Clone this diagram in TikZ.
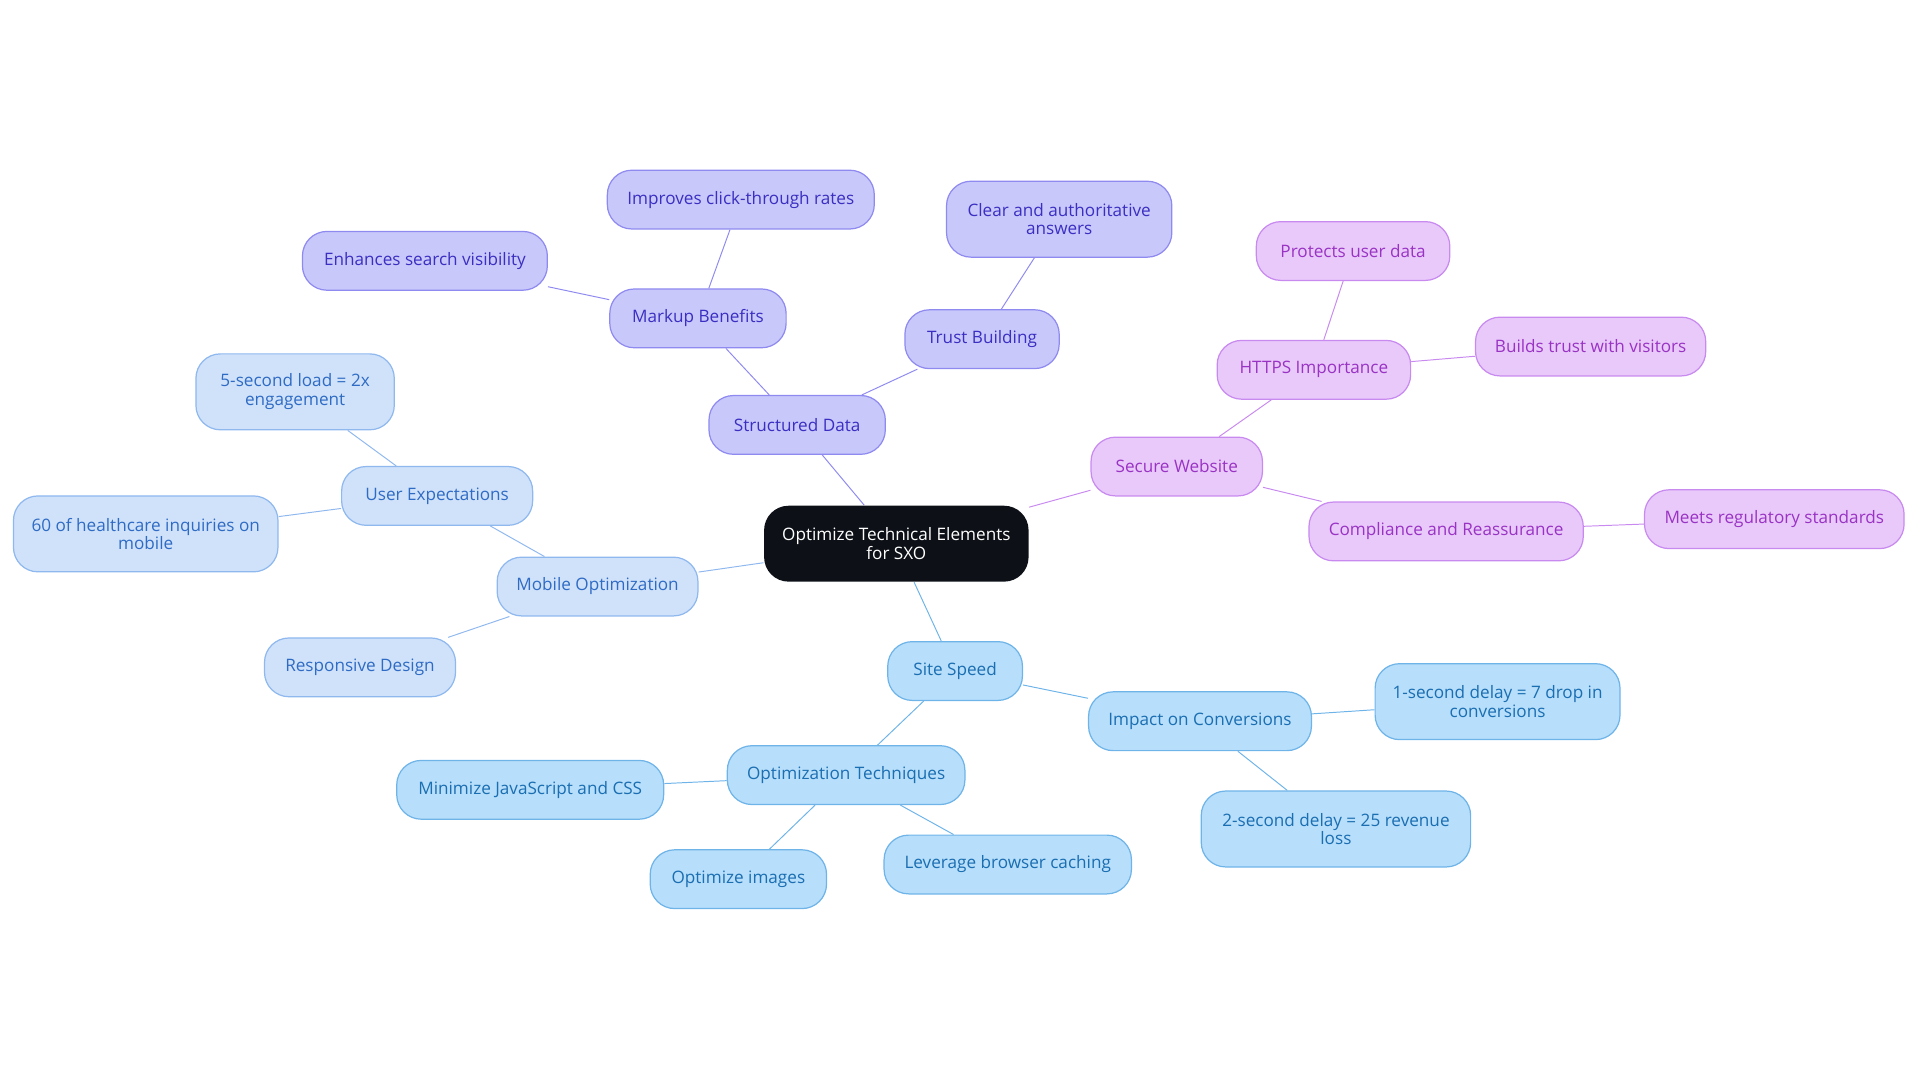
\documentclass[tikz,border=0pt]{standalone}
\usepackage{fontspec}
\setmainfont{Open Sans}
\usetikzlibrary{backgrounds}
\definecolor{rootfill}{HTML}{0D1117}
\definecolor{purfill}{HTML}{C9C8FA}\definecolor{purtext}{HTML}{3A2FC2}\definecolor{purline}{HTML}{8F8AF0}
\definecolor{pinkfill}{HTML}{E8C9FA}\definecolor{pinktext}{HTML}{9A33C4}\definecolor{pinkline}{HTML}{C98AF0}
\definecolor{mobfill}{HTML}{CFE2FA}\definecolor{mobtext}{HTML}{2F6BC4}\definecolor{mobline}{HTML}{8FB8EE}
\definecolor{spdfill}{HTML}{B7DEFA}\definecolor{spdtext}{HTML}{1A6EB2}\definecolor{spdline}{HTML}{6FB4E8}
\tikzset{
  box/.style={rounded corners=10pt, align=center, font=\fontsize{7}{7.6}\selectfont,
    minimum height=24pt, inner sep=2pt, line width=0.5pt},
  pur/.style={box, fill=purfill, draw=purline, text=purtext},
  pink/.style={box, fill=pinkfill, draw=pinkline, text=pinktext},
  mob/.style={box, fill=mobfill, draw=mobline, text=mobtext},
  spd/.style={box, fill=spdfill, draw=spdline, text=spdtext},
  tall/.style={minimum height=31pt},
}
\begin{document}
\begin{tikzpicture}[x=0.5pt,y=-0.5pt]
\useasboundingbox (0,0) rectangle (1568,884);
% centre
\node[box, fill=rootfill, text=white, minimum width=108pt, minimum height=31pt] (root) at (732,444) {Optimize Technical Elements\\for SXO};
% structured data
\node[pur, minimum width=72pt] (sd) at (651,347) {Structured Data};
\node[pur, minimum width=72pt] (mb) at (570,260) {Markup Benefits};
\node[pur, minimum width=109pt] (ctr) at (605,163) {Improves click-through rates};
\node[pur, minimum width=100pt] (esv) at (347,213) {Enhances search visibility};
\node[pur, minimum width=63pt] (tb) at (802,277) {Trust Building};
\node[pur, tall, minimum width=92pt] (caa) at (865,179) {Clear and authoritative\\answers};
% secure website
\node[pink, minimum width=70pt] (sw) at (961,381) {Secure Website};
\node[pink, minimum width=79pt] (https) at (1073,302) {HTTPS Importance};
\node[pink, minimum width=79pt] (pud) at (1105,205) {Protects user data};
\node[pink, minimum width=94pt] (btv) at (1299,283) {Builds trust with visitors};
\node[pink, minimum width=112pt] (car) at (1181,434) {Compliance and Reassurance};
\node[pink, minimum width=106pt] (mrs) at (1449,424) {Meets regulatory standards};
% mobile
\node[mob, minimum width=82pt] (mo) at (488,479) {Mobile Optimization};
\node[mob, minimum width=78pt] (ue) at (357,405) {User Expectations};
\node[mob, tall, minimum width=81pt] (five) at (241,320) {5-second load = 2x\\engagement};
\node[mob, tall, minimum width=108pt] (sixty) at (119,436) {60 of healthcare inquiries on\\mobile};
\node[mob, minimum width=78pt] (rd) at (294,545) {Responsive Design};
% site speed
\node[spd, minimum width=55pt] (ss) at (780,548) {Site Speed};
\node[spd, minimum width=91pt] (ioc) at (980,589) {Impact on Conversions};
\node[spd, tall, minimum width=100pt] (one) at (1223,573) {1-second delay = 7 drop in\\conversions};
\node[spd, tall, minimum width=110pt] (two) at (1091,677) {2-second delay = 25 revenue\\loss};
\node[spd, minimum width=97pt] (ot) at (691,633) {Optimization Techniques};
\node[spd, minimum width=109pt] (mjc) at (433,645) {Minimize JavaScript and CSS};
\node[spd, minimum width=72pt] (oi) at (603,718) {Optimize images};
\node[spd, minimum width=101pt] (lbc) at (823,706) {Leverage browser caching};
\begin{scope}[on background layer, line width=1pt]
\draw[purline] (root) -- (sd) (sd) -- (mb) (mb) -- (ctr) (mb) -- (esv) (sd) -- (tb) (tb) -- (caa);
\draw[pinkline] (root) -- (sw) (sw) -- (https) (https) -- (pud) (https) -- (btv) (sw) -- (car) (car) -- (mrs);
\draw[mobline] (root) -- (mo) (mo) -- (ue) (ue) -- (five) (ue) -- (sixty) (mo) -- (rd);
\draw[spdline] (root) -- (ss) (ss) -- (ioc) (ioc) -- (one) (ioc) -- (two) (ss) -- (ot) (ot) -- (mjc) (ot) -- (oi) (ot) -- (lbc);
\end{scope}
\end{tikzpicture}
\end{document}
